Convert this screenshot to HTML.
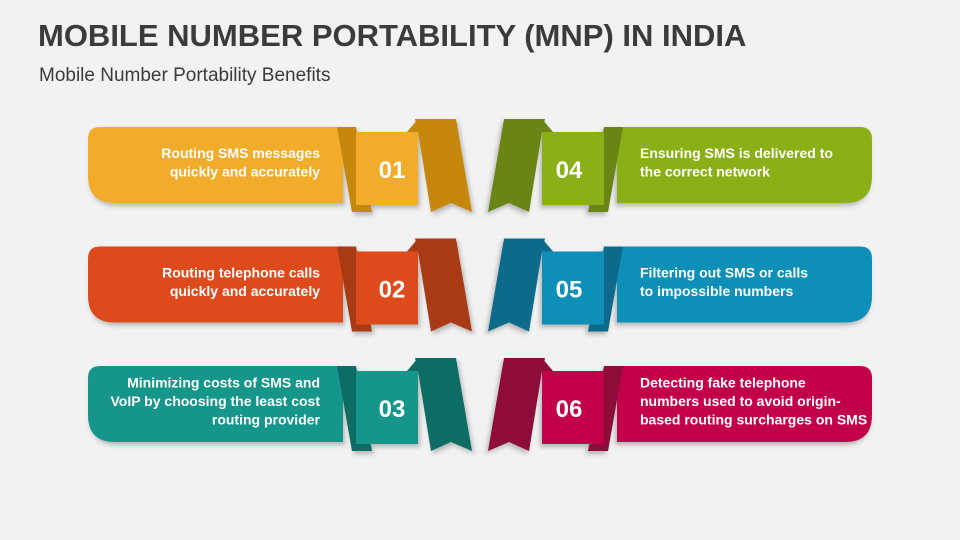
<!DOCTYPE html>
<html><head><meta charset="utf-8"><style>
html,body{margin:0;padding:0;background:#f2f2f2;}
svg{display:block;font-family:"Liberation Sans",sans-serif;}
</style></head><body>
<svg width="960" height="540" viewBox="0 0 960 540">
<defs><filter id="sh" x="-10%" y="-10%" width="130%" height="140%"><feDropShadow dx="2" dy="3" stdDeviation="2.5" flood-color="#000" flood-opacity="0.25"/></filter></defs>
<rect width="960" height="540" fill="#f2f2f2"/>
<text x="38" y="46" font-size="31" font-weight="bold" fill="#3b3b3b">MOBILE NUMBER PORTABILITY (MNP) IN INDIA</text>
<text x="39" y="81" font-size="19" fill="#3b3b3b">Mobile Number Portability Benefits</text>
<g id="items"></g>
</svg>
<script>
const labels=["01","02","03","04","05","06"];
const colors=["#F0AC2A","#DD4B1E","#13968A","#8BAF12","#0E8FB8","#C2064A"];
const darks=["#C6870F","#A83A17","#0E6D65","#6A8413","#0D6A8B","#8D0838"];
const texts=[["Routing SMS messages","quickly and accurately"],["Routing telephone calls","quickly and accurately"],["Minimizing costs of SMS and","VoIP by choosing the least cost","routing provider"],["Ensuring SMS is delivered to","the correct network"],["Filtering out SMS or calls","to impossible numbers"],["Detecting fake telephone","numbers used to avoid origin-","based routing surcharges on SMS"]];
const NS="http://www.w3.org/2000/svg";
const root=document.getElementById('items');
function mk(tag,attrs,parent){const e=document.createElementNS(NS,tag);for(const k in attrs)e.setAttribute(k,attrs[k]);parent.appendChild(e);return e;}
for(let i=0;i<6;i++){
  const right=i>=3;const row=i%3;const dy=row*119.5;
  const g=mk('g',{transform:(right?'translate(960,0) scale(-1,1) ':'')+'translate(0,'+dy+')'},root);
  
  
  g.setAttribute('filter','url(#sh)');
  const c=colors[i],d=darks[i];
  // tail
  const tail=mk('polygon',{points:'415,119 456,119 472,212 451,203 431,212 418,132',fill:d},g);
  
  
  mk('polygon',{points:'407,132 418,119 418,132',fill:d},g);
  // main bar
  const bar=mk('path',{d:'M343,127 L100,127 Q88,127 88,139 L88,176 Q88,203 115,203 L343,203 Z',fill:c},g);
  
  
  mk('polygon',{points:'337,127 356,127 372,212 352,212',fill:d},g);
  mk('polygon',{points:'352,212 372,212 368,205',fill:d},g);
  const box=mk('rect',{x:356,y:132,width:62,height:73,fill:c},g);
  
  
  // number
  const cx=right?569:392;
  const num=mk('text',{x:cx,y:178+dy,'font-size':24,'font-weight':'bold',fill:'#fff','text-anchor':'middle'},root);
  num.textContent=labels[i];
  
  
  const lines=texts[i];
  const lh=18.5;const y0=165+dy-(lines.length-1)*lh/2+5-3;
  const t=mk('text',{'font-size':14,'font-weight':'bold',fill:'#fff','text-anchor':right?'start':'end'},root);
  
  
  lines.forEach((s,k)=>{const ts=mk('tspan',{x:right?640:320,y:y0+k*lh},t);ts.textContent=s;});
}
</script>
</body></html>
